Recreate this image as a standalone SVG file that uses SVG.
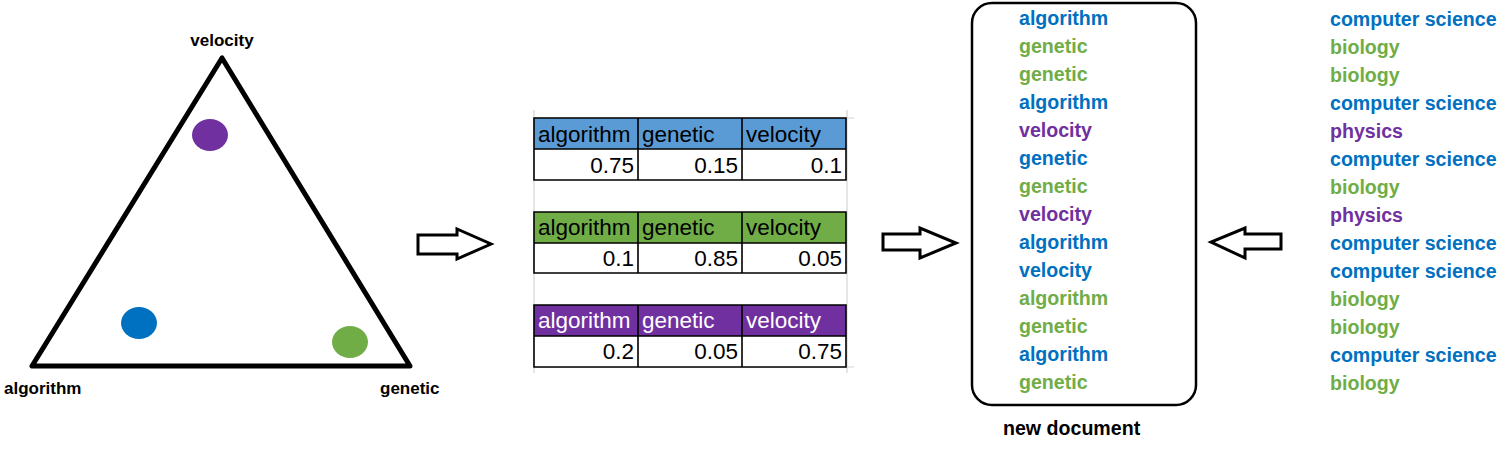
<svg xmlns="http://www.w3.org/2000/svg" width="1512" height="454" viewBox="0 0 1512 454">
<style>
.lbl{font-family:"Liberation Sans",Arial,sans-serif;font-weight:bold;font-size:17px;fill:#000}
.cell{font-family:"Liberation Sans",Arial,sans-serif;font-size:22.5px;fill:#000}
.w{fill:#fff}
.num{text-anchor:end}
.grid{fill:none;stroke:#000;stroke-width:1.6}
.word{font-family:"Liberation Sans",Arial,sans-serif;font-weight:bold;font-size:19.6px}
.b{fill:#0070c0}.g{fill:#70ad47}.p{fill:#7030a0}
.arrow{fill:#fff;stroke:#000;stroke-width:3;stroke-linejoin:miter}
</style>
<rect width="1512" height="454" fill="#fff"/>

<g id="triangle">
<polygon points="222,58 32,366 410,366" fill="none" stroke="#000" stroke-width="5" stroke-linejoin="round"/>
<ellipse cx="210" cy="135" rx="18" ry="16" fill="#7030a0"/>
<ellipse cx="139" cy="323" rx="18" ry="16" fill="#0070c0"/>
<ellipse cx="350" cy="342" rx="18" ry="16" fill="#70ad47"/>
<text class="lbl" x="222" y="46" text-anchor="middle">velocity</text>
<text class="lbl" x="4" y="394">algorithm</text>
<text class="lbl" x="380" y="394">genetic</text>
</g>

<g id="tables">
<g stroke="#d4d4d4" stroke-width="1.2" fill="none">
<line x1="534" y1="110" x2="534" y2="373"/>
<line x1="847" y1="110" x2="847" y2="373"/>
<line x1="534" y1="118" x2="854" y2="118"/>
<line x1="534" y1="367" x2="854" y2="367"/>
</g>
<g id="table-blue">
<rect x="534" y="118" width="312" height="31" fill="#5b9bd5"/>
<rect x="534" y="149" width="312" height="31" fill="#fff"/>
<path class="grid" d="M534,118H846V180H534Z M534,149H846 M638,118V180 M742,118V180"/>
<text class="cell" x="538" y="142">algorithm</text>
<text class="cell" x="642" y="142">genetic</text>
<text class="cell" x="746" y="142">velocity</text>
<text class="cell num" x="634" y="173">0.75</text>
<text class="cell num" x="738" y="173">0.15</text>
<text class="cell num" x="842" y="173">0.1</text>
</g>
<g id="table-green">
<rect x="534" y="212" width="312" height="31" fill="#70ad47"/>
<rect x="534" y="243" width="312" height="30" fill="#fff"/>
<path class="grid" d="M534,212H846V273H534Z M534,243H846 M638,212V273 M742,212V273"/>
<text class="cell" x="538" y="235">algorithm</text>
<text class="cell" x="642" y="235">genetic</text>
<text class="cell" x="746" y="235">velocity</text>
<text class="cell num" x="634" y="266">0.1</text>
<text class="cell num" x="738" y="266">0.85</text>
<text class="cell num" x="842" y="266">0.05</text>
</g>
<g id="table-purple">
<rect x="534" y="305" width="312" height="31" fill="#7030a0"/>
<rect x="534" y="336" width="312" height="31" fill="#fff"/>
<path class="grid" d="M534,305H846V367H534Z M534,336H846 M638,305V367 M742,305V367"/>
<text class="cell w" x="538" y="328">algorithm</text>
<text class="cell w" x="642" y="328">genetic</text>
<text class="cell w" x="746" y="328">velocity</text>
<text class="cell num" x="634" y="359">0.2</text>
<text class="cell num" x="738" y="359">0.05</text>
<text class="cell num" x="842" y="359">0.75</text>
</g>
</g>

<g id="new-document">
<rect x="972" y="3" width="224" height="402" rx="20" ry="20" fill="none" stroke="#000" stroke-width="2.5"/>
<text class="word b" x="1019" y="25">algorithm</text>
<text class="word g" x="1019" y="53">genetic</text>
<text class="word g" x="1019" y="81">genetic</text>
<text class="word b" x="1019" y="109">algorithm</text>
<text class="word p" x="1019" y="137">velocity</text>
<text class="word b" x="1019" y="165">genetic</text>
<text class="word g" x="1019" y="193">genetic</text>
<text class="word p" x="1019" y="221">velocity</text>
<text class="word b" x="1019" y="249">algorithm</text>
<text class="word b" x="1019" y="277">velocity</text>
<text class="word g" x="1019" y="305">algorithm</text>
<text class="word g" x="1019" y="333">genetic</text>
<text class="word b" x="1019" y="361">algorithm</text>
<text class="word g" x="1019" y="389">genetic</text>
<text class="word" x="1003" y="435" fill="#000">new document</text>
</g>

<g id="topics">
<text class="word b" x="1330" y="26">computer science</text>
<text class="word g" x="1330" y="54">biology</text>
<text class="word g" x="1330" y="82">biology</text>
<text class="word b" x="1330" y="110">computer science</text>
<text class="word p" x="1330" y="138">physics</text>
<text class="word b" x="1330" y="166">computer science</text>
<text class="word g" x="1330" y="194">biology</text>
<text class="word p" x="1330" y="222">physics</text>
<text class="word b" x="1330" y="250">computer science</text>
<text class="word b" x="1330" y="278">computer science</text>
<text class="word g" x="1330" y="306">biology</text>
<text class="word g" x="1330" y="334">biology</text>
<text class="word b" x="1330" y="362">computer science</text>
<text class="word g" x="1330" y="390">biology</text>
</g>

<g id="connectors">
<polygon class="arrow" points="418,235 457,235 457,229 491,244 457,259 457,254 418,254"/>
<polygon class="arrow" points="883,234 920,234 920,228 956,243 920,258 920,250 883,250"/>
<polygon class="arrow" points="1281,234 1245,234 1245,228 1211,242 1245,258 1245,249 1281,249"/>
</g>
</svg>
